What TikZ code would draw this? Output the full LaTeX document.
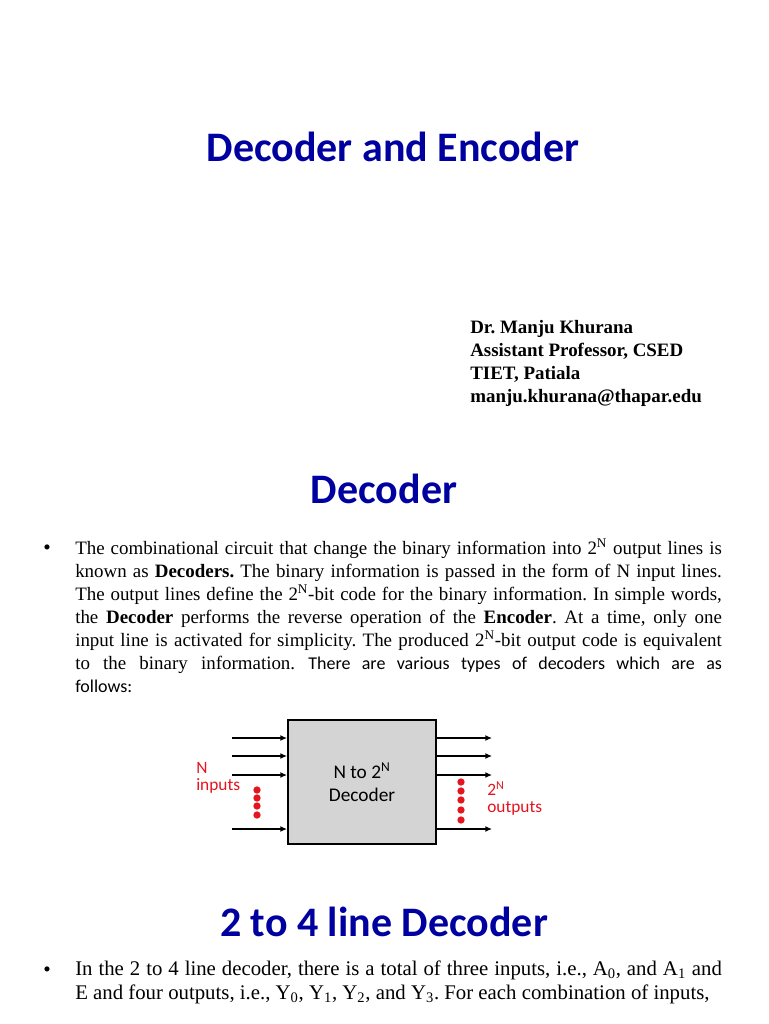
\documentclass[tikz,border=0pt]{standalone}
\usepackage{fontspec}
\setmainfont{Liberation Serif}
\newfontfamily\calfont{Carlito}
\usetikzlibrary{arrows.meta}
\definecolor{ttl}{RGB}{0,0,160}
\definecolor{boxg}{RGB}{212,212,212}
\definecolor{rd}{RGB}{230,20,30}
\frenchspacing
\begin{document}
\begin{tikzpicture}[x=0.75pt,y=-0.75pt,
  heading/.style={font=\calfont\bfseries, text=ttl, anchor=center},
  arr/.style={-{Latex[length=5pt,width=4.5pt]}, line width=1pt},
  dot/.style={circle, fill=rd, inner sep=0pt, minimum size=5.5pt},
  redlbl/.style={text=rd, font=\calfont\fontsize{13}{13}\selectfont, anchor=west, inner sep=0pt}]
\useasboundingbox (0,0) rectangle (768,1024);
\fill[white] (0,0) rectangle (768,1024);
\node[heading, font=\calfont\bfseries\fontsize{31.5}{34}\selectfont] (t1) at (393,147) {Decoder and Encoder};
\node[anchor=north west, inner sep=0pt, align=left, font=\bfseries\fontsize{14.2}{17.3}\selectfont] (auth) at (470,320)
 {Dr. Manju Khurana\\Assistant Professor, CSED\\TIET, Patiala\\manju.khurana@thapar.edu};
\node[heading, font=\calfont\bfseries\fontsize{31.5}{34}\selectfont] (t2) at (384,489) {Decoder};
\node[anchor=center, inner sep=0pt] (b1) at (47,550) {\fontsize{16}{17}\selectfont •};
\node[anchor=north west, inner sep=0pt, text width=485pt, align=justify, font=\fontsize{14.2}{17.25}\selectfont] (p1) at (75,539)
 {The combinational circuit that change the binary information into 2\textsuperscript{N} output lines is\linebreak known as \textbf{Decoders.} The binary information is passed in the form of N input lines.\linebreak The output lines define the 2\textsuperscript{N}-bit code for the binary information. In simple words,\linebreak the \textbf{Decoder} performs the reverse operation of the \textbf{Encoder}. At a time, only one\linebreak input line is activated for simplicity. The produced 2\textsuperscript{N}-bit output code is equivalent\linebreak to the binary information. {\calfont\fontsize{13.5}{17.25}\selectfont There are various types of decoders which are as\linebreak follows:}};
% decoder block
\node[draw, line width=1.5pt, fill=boxg, minimum width=111pt, minimum height=93pt, inner sep=0pt, align=center,
  font=\calfont\fontsize{14.5}{17}\selectfont] (dec) at (362,782) {N to 2\textsuperscript{N}\\Decoder};
\foreach \y/\n in {738/i1,756/i2,775/i3,829/i4}{
  \coordinate (\n) at (232,\y);
  \draw[arr] (\n) -- (dec.west |- \n);
  \coordinate (o\n) at (492,\y);
  \draw[arr] (dec.east |- \n) -- (o\n);
}
\foreach \y in {790,798,806,815} \node[dot] at (257,\y) {};
\foreach \y in {782,791,800,810,820} \node[dot] at (461,\y) {};
\node[redlbl] (nin) at (196,768) {N};
\node[redlbl] (inp) at (196,786) {inputs};
\node[redlbl] (nout) at (487,789) {2\textsuperscript{N}};
\node[redlbl] (outp) at (487,808) {outputs};
\node[heading, font=\calfont\bfseries\fontsize{31.5}{34}\selectfont] (t3) at (384,922) {2 to 4 line Decoder};
\node[anchor=center, inner sep=0pt] (b2) at (47,972) {\fontsize{16}{17}\selectfont •};
\node[anchor=north west, inner sep=0pt, text width=485pt, align=justify, font=\fontsize{15.6}{17.5}\selectfont] (p2) at (75,961)
 {In the 2 to 4 line decoder, there is a total of three inputs, i.e., A\textsubscript{0}, and A\textsubscript{1} and\linebreak
  E and four outputs, i.e., Y\textsubscript{0}, Y\textsubscript{1}, Y\textsubscript{2}, and Y\textsubscript{3}. For each combination of inputs,};
\end{tikzpicture}
\end{document}
